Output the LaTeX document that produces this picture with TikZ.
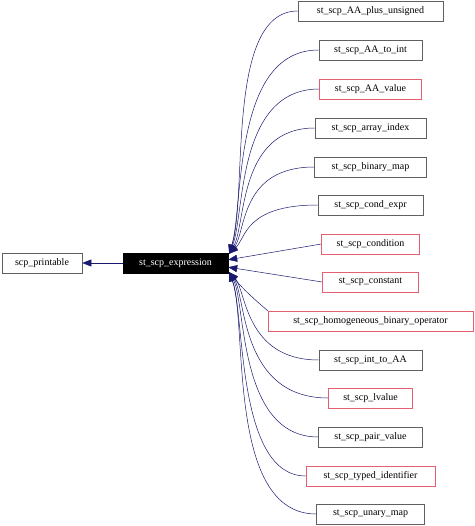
\documentclass[tikz,border=0pt]{standalone}
\usepackage{fontspec}
\setmainfont{Liberation Serif}
\usetikzlibrary{arrows.meta}
\definecolor{edgeblue}{RGB}{25,25,112}
\definecolor{boxgray}{RGB}{96,96,96}
\definecolor{boxred}{RGB}{228,96,112}
\begin{document}
\begin{tikzpicture}[x=1pt,y=-1pt,
  cls/.style={draw=boxgray,line width=0.6pt,fill=white,minimum height=20pt,inner sep=0pt,font=\fontsize{10}{12}\selectfont},
  clsred/.style={cls,draw=boxred},
  edge/.style={draw=edgeblue,line width=0.5pt,arrows={-{Triangle[length=9pt,width=7pt,fill=edgeblue]}}}]
\useasboundingbox (0,0) rectangle (474,526);
% left part
\node[cls,minimum width=80pt] (print) at (42,263) {scp\_printable};
\node[draw=black,fill=black,text=white,minimum width=105pt,minimum height=20pt,inner sep=0pt,font=\fontsize{10}{12}\selectfont] (expr) at (175.5,263) {st\_scp\_expression};
% derived classes
\node[cls,minimum width=145pt] (n1) at (370.5,11) {st\_scp\_AA\_plus\_unsigned};
\node[cls,minimum width=103pt] (n2) at (370.5,50) {st\_scp\_AA\_to\_int};
\node[clsred,minimum width=102pt] (n3) at (370.5,89) {st\_scp\_AA\_value};
\node[cls,minimum width=111pt] (n4) at (370.5,128) {st\_scp\_array\_index};
\node[cls,minimum width=112pt] (n5) at (370.5,167) {st\_scp\_binary\_map};
\node[cls,minimum width=105pt] (n6) at (370.5,205) {st\_scp\_cond\_expr};
\node[clsred,minimum width=98pt] (n7) at (370.5,244) {st\_scp\_condition};
\node[clsred,minimum width=96pt] (n8) at (370.5,282) {st\_scp\_constant};
\node[clsred,minimum width=205pt] (n9) at (370.5,321) {st\_scp\_homogeneous\_binary\_operator};
\node[cls,minimum width=103pt] (n10) at (370.5,360) {st\_scp\_int\_to\_AA};
\node[clsred,minimum width=84pt] (n11) at (370.5,398) {st\_scp\_lvalue};
\node[cls,minimum width=104pt] (n12) at (370.5,437) {st\_scp\_pair\_value};
\node[clsred,minimum width=129pt] (n13) at (370.5,476) {st\_scp\_typed\_identifier};
\node[cls,minimum width=108pt] (n14) at (370.5,514) {st\_scp\_unary\_map};
% arrival points on the base class
\coordinate (etop) at ([xshift=1pt,yshift=-1pt]expr.north east);
\coordinate (econd) at ([yshift=-7pt]expr.north east);
\coordinate (econst) at ([yshift=6pt]expr.south east);
\coordinate (ebot) at ([xshift=1pt,yshift=1pt]expr.south east);
% edges
\draw[edge] (expr) -- (print);
\draw[edge] (n1.west) .. controls (225,11) and (248,195) .. (etop);
\draw[edge] (n2.west) .. controls (232,50) and (244,205) .. (etop);
\draw[edge] (n3.west) .. controls (236,89) and (245,215) .. (etop);
\draw[edge] (n4.west) .. controls (238,128) and (246,225) .. (etop);
\draw[edge] (n5.west) .. controls (240,167) and (246,232) .. (etop);
\draw[edge] (n6.west) .. controls (245,205) and (246,238) .. (etop);
\draw[edge] (n7.west) -- (econd);
\draw[edge] (n8.west) -- (econst);
\draw[edge] (n9.north west) .. controls (255,300) and (242,288) .. (ebot);
\draw[edge] (n10.west) .. controls (245,360) and (246,290) .. (ebot);
\draw[edge] (n11.west) .. controls (240,398) and (246,296) .. (ebot);
\draw[edge] (n12.west) .. controls (238,437) and (246,303) .. (ebot);
\draw[edge] (n13.west) .. controls (236,476) and (245,313) .. (ebot);
\draw[edge] (n14.west) .. controls (226,514) and (248,323) .. (ebot);
\end{tikzpicture}
\end{document}
